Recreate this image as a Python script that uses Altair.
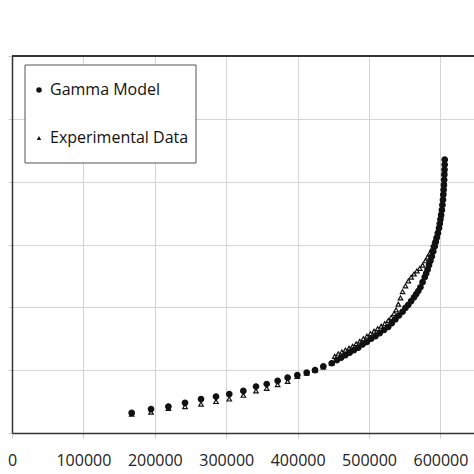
import altair as alt
import pandas as pd

# Gamma Model (x, y)
gamma_x = [167600, 194700, 219000, 242300, 264700, 285700, 304300, 324000, 341700, 356700,
           372000, 386000, 399600, 412700, 424400, 436000, 447700,
           455000, 461000, 467000, 473000, 479000, 485000, 491000, 497000, 503000, 509000,
           515000, 521000, 527000, 532000, 537000, 542000, 547000, 551000, 555000, 559000,
           563000, 566000, 569000, 572000, 575000, 578000, 580000, 582000, 584000, 586000,
           588000, 590000, 592000, 593500, 595000, 596500, 598000, 599000, 600000, 601000,
           602000, 602800, 603500, 604000, 604500, 604900, 605200, 605500, 605700, 605900, 606000]
gamma_y = [0.32, 0.38, 0.42, 0.48, 0.54, 0.58, 0.62, 0.67, 0.74, 0.78,
           0.83, 0.88, 0.92, 0.96, 1.00, 1.06, 1.11,
           1.16, 1.20, 1.24, 1.28, 1.32, 1.36, 1.41, 1.45, 1.50, 1.54,
           1.59, 1.64, 1.69, 1.75, 1.81, 1.87, 1.93, 1.99, 2.04, 2.10,
           2.16, 2.21, 2.26, 2.32, 2.40, 2.48, 2.54, 2.60, 2.67, 2.74,
           2.81, 2.89, 2.97, 3.04, 3.11, 3.18, 3.26, 3.33, 3.40, 3.47,
           3.55, 3.63, 3.71, 3.79, 3.87, 3.95, 4.03, 4.11, 4.19, 4.27, 4.35]

# Experimental Data (x, y)
exp_x = [167600, 194700, 219000, 242300, 264700, 285700, 304300, 324000, 341700, 356700,
         372000, 386000, 399600, 412700, 424400, 436000, 447700,
         452000, 457000, 462000, 467000, 472000, 477000, 482000, 487000, 492000, 497000,
         502000, 507000, 512000, 517000, 522000, 527000, 531000, 535000, 538000, 541000,
         544000, 547000, 551000, 555000, 559000, 563000, 567000, 571000, 575000, 579000,
         582000, 585000, 588000, 590000, 592000, 594000, 596000, 598000, 599500, 601000,
         602000, 603000, 603800, 604500, 605000, 605400, 605700]
exp_y = [0.30, 0.33, 0.39, 0.42, 0.46, 0.50, 0.54, 0.60, 0.67, 0.71,
         0.77, 0.82, 0.90, 0.95, 1.00, 1.05, 1.11,
         1.22, 1.26, 1.29, 1.32, 1.35, 1.38, 1.42, 1.46, 1.50, 1.54,
         1.58, 1.62, 1.66, 1.70, 1.74, 1.79, 1.84, 1.90, 1.96, 2.05,
         2.15, 2.25, 2.34, 2.42, 2.48, 2.53, 2.58, 2.62, 2.67, 2.74,
         2.80, 2.86, 2.93, 3.00, 3.07, 3.14, 3.22, 3.30, 3.38, 3.47,
         3.56, 3.65, 3.75, 3.85, 3.95, 4.06, 4.18]

series_names = ["Gamma Model", "Experimental Data"]
x_ticks = [0, 100000, 200000, 300000, 400000, 500000, 600000]
y_ticks = [0, 1, 2, 3, 4, 5, 6]

df = pd.DataFrame({
    "x": gamma_x + exp_x,
    "y": gamma_y + exp_y,
    "series": [series_names[0]] * len(gamma_x) + [series_names[1]] * len(exp_x),
})

FONT = "Open Sans"

legend = alt.Legend(title=None, orient="none", legendX=14, legendY=21,
                    padding=5, labelOffset=3,
                    rowPadding=32, labelFontSize=16, labelFont=FONT,
                    labelColor="#111111", symbolStrokeColor="#111111",
                    labelLimit=300)

# legend frame (decoration)
frame = alt.Chart(pd.DataFrame({"k": [0]})).mark_rect(
    fill="white", stroke="#555555", strokeWidth=1
).encode(x=alt.value(13), x2=alt.value(184), y=alt.value(9), y2=alt.value(107))

points = alt.Chart(df).mark_point(color="#111111", strokeWidth=1.2, opacity=1).encode(
    x=alt.X("x:Q", scale=alt.Scale(domain=[0, 647000], nice=False, zero=False),
            axis=alt.Axis(values=x_ticks, title=None, format="d", grid=True,
                          labelFontSize=16, labelFont=FONT, labelColor="#222222",
                          labelPadding=14, tickSize=5, tickColor="#cccccc",
                          domainColor="#333333", domainWidth=1.5,
                          gridColor="#d4d4d4", labelFlush=False)),
    y=alt.Y("y:Q", scale=alt.Scale(domain=[0, 6], nice=False),
            axis=alt.Axis(values=y_ticks, title=None, labels=False, grid=True,
                          tickSize=4, tickColor="#cccccc",
                          domainColor="#333333", domainWidth=1.5,
                          gridColor="#d4d4d4")),
    shape=alt.Shape("series:N", scale=alt.Scale(domain=series_names,
                                                 range=["circle", "triangle-up"]),
                    legend=legend),
    fillOpacity=alt.FillOpacity("series:N", scale=alt.Scale(domain=series_names, range=[1, 0]),
                                legend=legend),
    fill=alt.value("#111111"),
    size=alt.Size("series:N", scale=alt.Scale(domain=series_names, range=[30, 20]),
                  legend=legend),
    order=alt.Order("series:N", sort="descending"),
)

top_line = alt.Chart(pd.DataFrame({"y": [6]})).mark_rule(color="#333333", strokeWidth=2).encode(
    y="y:Q"
)

chart = alt.layer(frame, points, top_line).properties(
    width=462, height=377,
    padding={"left": 12, "top": 56, "right": 0, "bottom": 41},
    autosize=alt.AutoSizeParams(type="none"),
    background="white",
).configure_view(stroke=None)

chart.save("out.html", embed_options={"renderer": "svg", "actions": False})
